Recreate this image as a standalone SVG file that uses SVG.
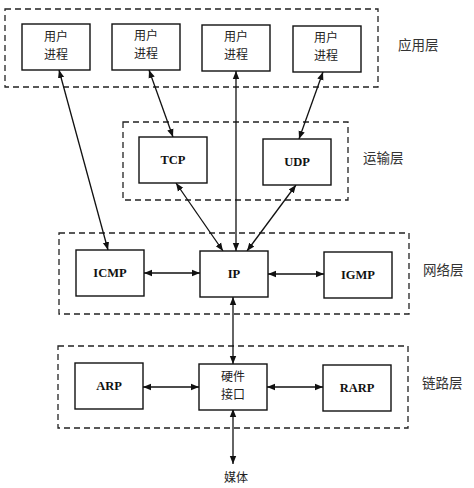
<svg xmlns="http://www.w3.org/2000/svg" width="474" height="488" viewBox="0 0 474 488">
<style>
.layer{fill:none;stroke:#222;stroke-width:1.3;stroke-dasharray:6,4}
.box{fill:#fff;stroke:#111;stroke-width:1.4}
.en{font-family:"Liberation Serif",serif;font-weight:bold;font-size:12.5px;fill:#111;text-anchor:middle}
.zh{font-family:"Noto Sans CJK SC",sans-serif;font-size:12px;fill:#222;text-anchor:middle}
.lbl{font-family:"Noto Sans CJK SC",sans-serif;font-size:13.5px;fill:#333}
.c{stroke:#111;stroke-width:1.3;fill:none;marker-start:url(#ah);marker-end:url(#ah)}
</style>
<defs>
<marker id="ah" viewBox="0 0 10 10" refX="10" refY="5" markerWidth="8" markerHeight="8" markerUnits="userSpaceOnUse" orient="auto-start-reverse">
<path d="M0,1 L10,5 L0,9 Z" fill="#111"/>
</marker>
</defs>
<g id="layers">
<rect class="layer" x="5" y="9" width="373" height="78"/>
<text class="lbl" x="398" y="50">应用层</text>
<rect class="layer" x="123" y="122" width="225" height="78"/>
<text class="lbl" x="363" y="163">运输层</text>
<rect class="layer" x="59" y="233" width="350" height="81"/>
<text class="lbl" x="423" y="275">网络层</text>
<rect class="layer" x="58" y="346" width="350" height="82"/>
<text class="lbl" x="422" y="388">链路层</text>
</g>
<g id="connectors">
<line class="c" x1="59" y1="70" x2="108" y2="250"/>
<line class="c" x1="149" y1="70" x2="173" y2="137"/>
<line class="c" x1="236" y1="71" x2="236" y2="251"/>
<line class="c" x1="323" y1="72" x2="299" y2="139"/>
<line class="c" x1="176" y1="183" x2="223" y2="251"/>
<line class="c" x1="296" y1="185" x2="247" y2="251"/>
<line class="c" x1="144" y1="273" x2="200" y2="273"/>
<line class="c" x1="268" y1="274" x2="324" y2="274"/>
<line class="c" x1="233" y1="297" x2="233" y2="364"/>
<line class="c" x1="143" y1="387" x2="199" y2="387"/>
<line class="c" x1="267" y1="387" x2="323" y2="387"/>
<line class="c" x1="233" y1="409" x2="233" y2="464"/>
</g>
<g id="p1"><rect class="box" x="22" y="24" width="68" height="46"/><text class="zh" x="56" y="41">用户</text><text class="zh" x="56" y="59">进程</text></g>
<g id="p2"><rect class="box" x="112" y="24" width="68" height="46"/><text class="zh" x="146" y="40">用户</text><text class="zh" x="146" y="58">进程</text></g>
<g id="p3"><rect class="box" x="202" y="25" width="68" height="46"/><text class="zh" x="236" y="41">用户</text><text class="zh" x="236" y="59">进程</text></g>
<g id="p4"><rect class="box" x="293" y="26" width="68" height="46"/><text class="zh" x="326" y="42">用户</text><text class="zh" x="326" y="60">进程</text></g>
<g id="tcp"><rect class="box" x="139" y="137" width="68" height="46"/><text class="en" x="173" y="164">TCP</text></g>
<g id="udp"><rect class="box" x="263" y="139" width="68" height="46"/><text class="en" x="297" y="166">UDP</text></g>
<g id="icmp"><rect class="box" x="76" y="250" width="68" height="46"/><text class="en" x="110" y="277">ICMP</text></g>
<g id="ip"><rect class="box" x="200" y="251" width="68" height="46"/><text class="en" x="234" y="278">IP</text></g>
<g id="igmp"><rect class="box" x="324" y="252" width="68" height="46"/><text class="en" x="358" y="279">IGMP</text></g>
<g id="arp"><rect class="box" x="75" y="363" width="68" height="46"/><text class="en" x="109" y="390">ARP</text></g>
<g id="hw"><rect class="box" x="199" y="364" width="68" height="46"/><text class="zh" x="233" y="381">硬件</text><text class="zh" x="233" y="399">接口</text></g>
<g id="rarp"><rect class="box" x="323" y="365" width="68" height="46"/><text class="en" x="357" y="392">RARP</text></g>
<g id="media"><text class="zh" x="236" y="482">媒体</text></g>
</svg>
